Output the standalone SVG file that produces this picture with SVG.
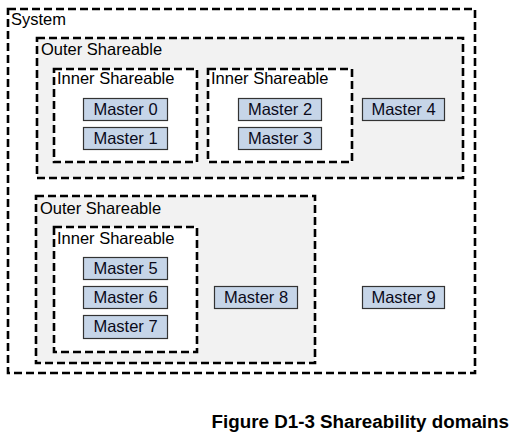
<svg xmlns="http://www.w3.org/2000/svg" width="517" height="435" viewBox="0 0 517 435">
<style>
.dom{fill:none;stroke:#000;stroke-width:2.6;stroke-dasharray:8 4}
.outer{fill:#f2f2f2}
.inner{fill:#fff}
.m rect{fill:#c6d5e8;stroke:#333;stroke-width:1.2}
text{font-family:"Liberation Sans",Arial,sans-serif;font-size:16.5px;fill:#000}
.m text{text-anchor:middle;fill:#0a0a1a}
.cap{font-weight:bold;font-size:18.8px;text-anchor:end}
</style>
<rect width="517" height="435" fill="#fff"/>
<g id="system">
<rect class="dom" x="8" y="9" width="467" height="364"/>
<text x="11" y="25">System</text>
</g>
<g id="outer1">
<rect class="dom outer" x="37" y="38" width="426" height="140"/>
<text x="41" y="55">Outer Shareable</text>
</g>
<g id="inner1">
<rect class="dom inner" x="54" y="69" width="143" height="93"/>
<text x="57" y="84">Inner Shareable</text>
</g>
<g id="inner2">
<rect class="dom inner" x="208" y="69" width="144" height="93"/>
<text x="211" y="84">Inner Shareable</text>
</g>
<g id="outer2">
<rect class="dom outer" x="36" y="196" width="279" height="167"/>
<text x="40" y="214">Outer Shareable</text>
</g>
<g id="inner3">
<rect class="dom inner" x="54" y="227" width="143" height="125"/>
<text x="57" y="244">Inner Shareable</text>
</g>
<g id="master0" class="m"><rect x="83.5" y="98.5" width="84" height="22"/><text x="125.5" y="115">Master 0</text></g>
<g id="master1" class="m"><rect x="83.5" y="127.5" width="84" height="22"/><text x="125.5" y="144">Master 1</text></g>
<g id="master2" class="m"><rect x="238.5" y="98.5" width="83" height="22"/><text x="280" y="115">Master 2</text></g>
<g id="master3" class="m"><rect x="238.5" y="127.5" width="83" height="22"/><text x="280" y="144">Master 3</text></g>
<g id="master4" class="m"><rect x="362.5" y="98.5" width="82" height="22"/><text x="403.5" y="115">Master 4</text></g>
<g id="master5" class="m"><rect x="83.5" y="257.5" width="84" height="22"/><text x="125.5" y="274">Master 5</text></g>
<g id="master6" class="m"><rect x="83.5" y="286.5" width="84" height="22"/><text x="125.5" y="303">Master 6</text></g>
<g id="master7" class="m"><rect x="83.5" y="315.5" width="84" height="23"/><text x="125.5" y="332">Master 7</text></g>
<g id="master8" class="m"><rect x="214.5" y="286.5" width="83" height="22"/><text x="256" y="303">Master 8</text></g>
<g id="master9" class="m"><rect x="362.5" y="286.5" width="82" height="22"/><text x="403.5" y="303">Master 9</text></g>
<g id="connectors"></g>
<text class="cap" x="509" y="428">Figure D1-3 Shareability domains</text>
</svg>
